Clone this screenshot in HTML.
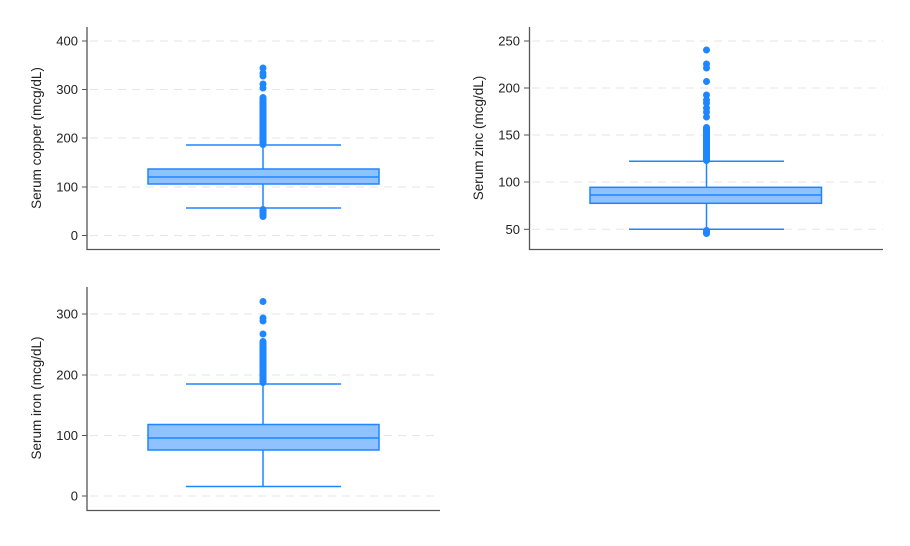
<!DOCTYPE html>
<html><head><style>body{margin:0;background:#fff}svg{display:block}text{font-family:"Liberation Sans",sans-serif;font-size:13px;fill:#222}.yl{font-size:13.5px}</style></head>
<body>
<svg width="910" height="546" viewBox="0 0 910 546">
<g stroke="#e6e6e6" stroke-dasharray="8,6" stroke-width="1">
<line x1="90" x2="440" y1="41" y2="41"/><line x1="90" x2="440" y1="89.5" y2="89.5"/><line x1="90" x2="440" y1="138" y2="138"/><line x1="90" x2="440" y1="187" y2="187"/><line x1="90" x2="440" y1="235.5" y2="235.5"/>
<line x1="532" x2="883" y1="41" y2="41"/><line x1="532" x2="883" y1="88" y2="88"/><line x1="532" x2="883" y1="135" y2="135"/><line x1="532" x2="883" y1="182" y2="182"/><line x1="532" x2="883" y1="229.3" y2="229.3"/>
<line x1="90" x2="440" y1="314" y2="314"/><line x1="90" x2="440" y1="375" y2="375"/><line x1="90" x2="440" y1="435.5" y2="435.5"/><line x1="90" x2="440" y1="496" y2="496"/>
</g>
<g stroke="#555" stroke-width="1.3" fill="none">
<polyline points="87,27 87,249.5 440,249.5"/>
<polyline points="529.5,27 529.5,249.5 883,249.5"/>
<polyline points="87,287 87,510.5 440,510.5"/>
</g>
<g stroke="#555"><line x1="82" x2="87" y1="41" y2="41"/><line x1="82" x2="87" y1="89.5" y2="89.5"/><line x1="82" x2="87" y1="138" y2="138"/><line x1="82" x2="87" y1="187" y2="187"/><line x1="82" x2="87" y1="235.5" y2="235.5"/>
<line x1="524" x2="529" y1="41" y2="41"/><line x1="524" x2="529" y1="88" y2="88"/><line x1="524" x2="529" y1="135" y2="135"/><line x1="524" x2="529" y1="182" y2="182"/><line x1="524" x2="529" y1="229.3" y2="229.3"/>
<line x1="82" x2="87" y1="314" y2="314"/><line x1="82" x2="87" y1="375" y2="375"/><line x1="82" x2="87" y1="435.5" y2="435.5"/><line x1="82" x2="87" y1="496" y2="496"/></g>
<g text-anchor="end">
<text x="78" y="45.5">400</text><text x="78" y="94">300</text><text x="78" y="142.5">200</text><text x="78" y="191.5">100</text><text x="78" y="240">0</text>
<text x="520" y="45.5">250</text><text x="520" y="92.5">200</text><text x="520" y="139.5">150</text><text x="520" y="186.5">100</text><text x="520" y="233.8">50</text>
<text x="78" y="318.5">300</text><text x="78" y="379.5">200</text><text x="78" y="440">100</text><text x="78" y="500.5">0</text>
</g>
<g text-anchor="middle" class="yl">
<text class="yl" transform="translate(41,138) rotate(-90)">Serum copper (mcg/dL)</text>
<text class="yl" transform="translate(483,138) rotate(-90)">Serum zinc (mcg/dL)</text>
<text class="yl" transform="translate(41,398) rotate(-90)">Serum iron (mcg/dL)</text>
</g>
<g stroke="#1e86ff" stroke-width="1.5" fill="none">
<line x1="263" x2="263" y1="145" y2="169"/><line x1="263" x2="263" y1="184" y2="208"/>
<line x1="186" x2="341" y1="145" y2="145"/><line x1="186" x2="341" y1="208" y2="208"/>
<rect x="148" y="169" width="231" height="15" fill="#8fc2ff"/><line x1="148" x2="379" y1="177" y2="177"/>
<line x1="706.5" x2="706.5" y1="161" y2="187"/><line x1="706.5" x2="706.5" y1="203" y2="229"/>
<line x1="629" x2="784" y1="161.3" y2="161.3"/><line x1="629" x2="784" y1="229.3" y2="229.3"/>
<rect x="590" y="187.3" width="231.5" height="16" fill="#8fc2ff"/><line x1="590" x2="821.5" y1="195" y2="195"/>
<line x1="263" x2="263" y1="384" y2="424.5"/><line x1="263" x2="263" y1="450" y2="486.5"/>
<line x1="186" x2="341" y1="384" y2="384"/><line x1="186" x2="341" y1="486.5" y2="486.5"/>
<rect x="148" y="424.5" width="231" height="25.5" fill="#8fc2ff"/><line x1="148" x2="379" y1="438" y2="438"/>
</g>
<g fill="#1e86ff">
<rect x="259.5" y="94" width="7" height="54" rx="3.5"/>
<circle cx="263" cy="102" r="3.5"/><circle cx="263" cy="88" r="3.5"/><circle cx="263" cy="84" r="3.5"/><circle cx="263" cy="76" r="3.5"/><circle cx="263" cy="68" r="3.5"/><circle cx="263" cy="73" r="3.5"/>
<rect x="259.5" y="206" width="7" height="14" rx="3.5"/>
<rect x="703" y="124" width="7" height="40" rx="3.5"/>
<circle cx="706.5" cy="117" r="3.5"/><circle cx="706.5" cy="112" r="3.5"/><circle cx="706.5" cy="108" r="3.5"/><circle cx="706.5" cy="103" r="3.5"/><circle cx="706.5" cy="100" r="3.5"/><circle cx="706.5" cy="95" r="3.5"/><circle cx="706.5" cy="81.5" r="3.5"/><circle cx="706.5" cy="68" r="3.5"/><circle cx="706.5" cy="64" r="3.5"/><circle cx="706.5" cy="50" r="3.5"/>
<rect x="703" y="227" width="7" height="10" rx="3.5"/>
<rect x="259.5" y="338" width="7" height="48" rx="3.5"/>
<circle cx="263" cy="334" r="3.5"/><circle cx="263" cy="321" r="3.5"/><circle cx="263" cy="318" r="3.5"/><circle cx="263" cy="301.5" r="3.5"/>
</g>
</svg>
</body></html>
